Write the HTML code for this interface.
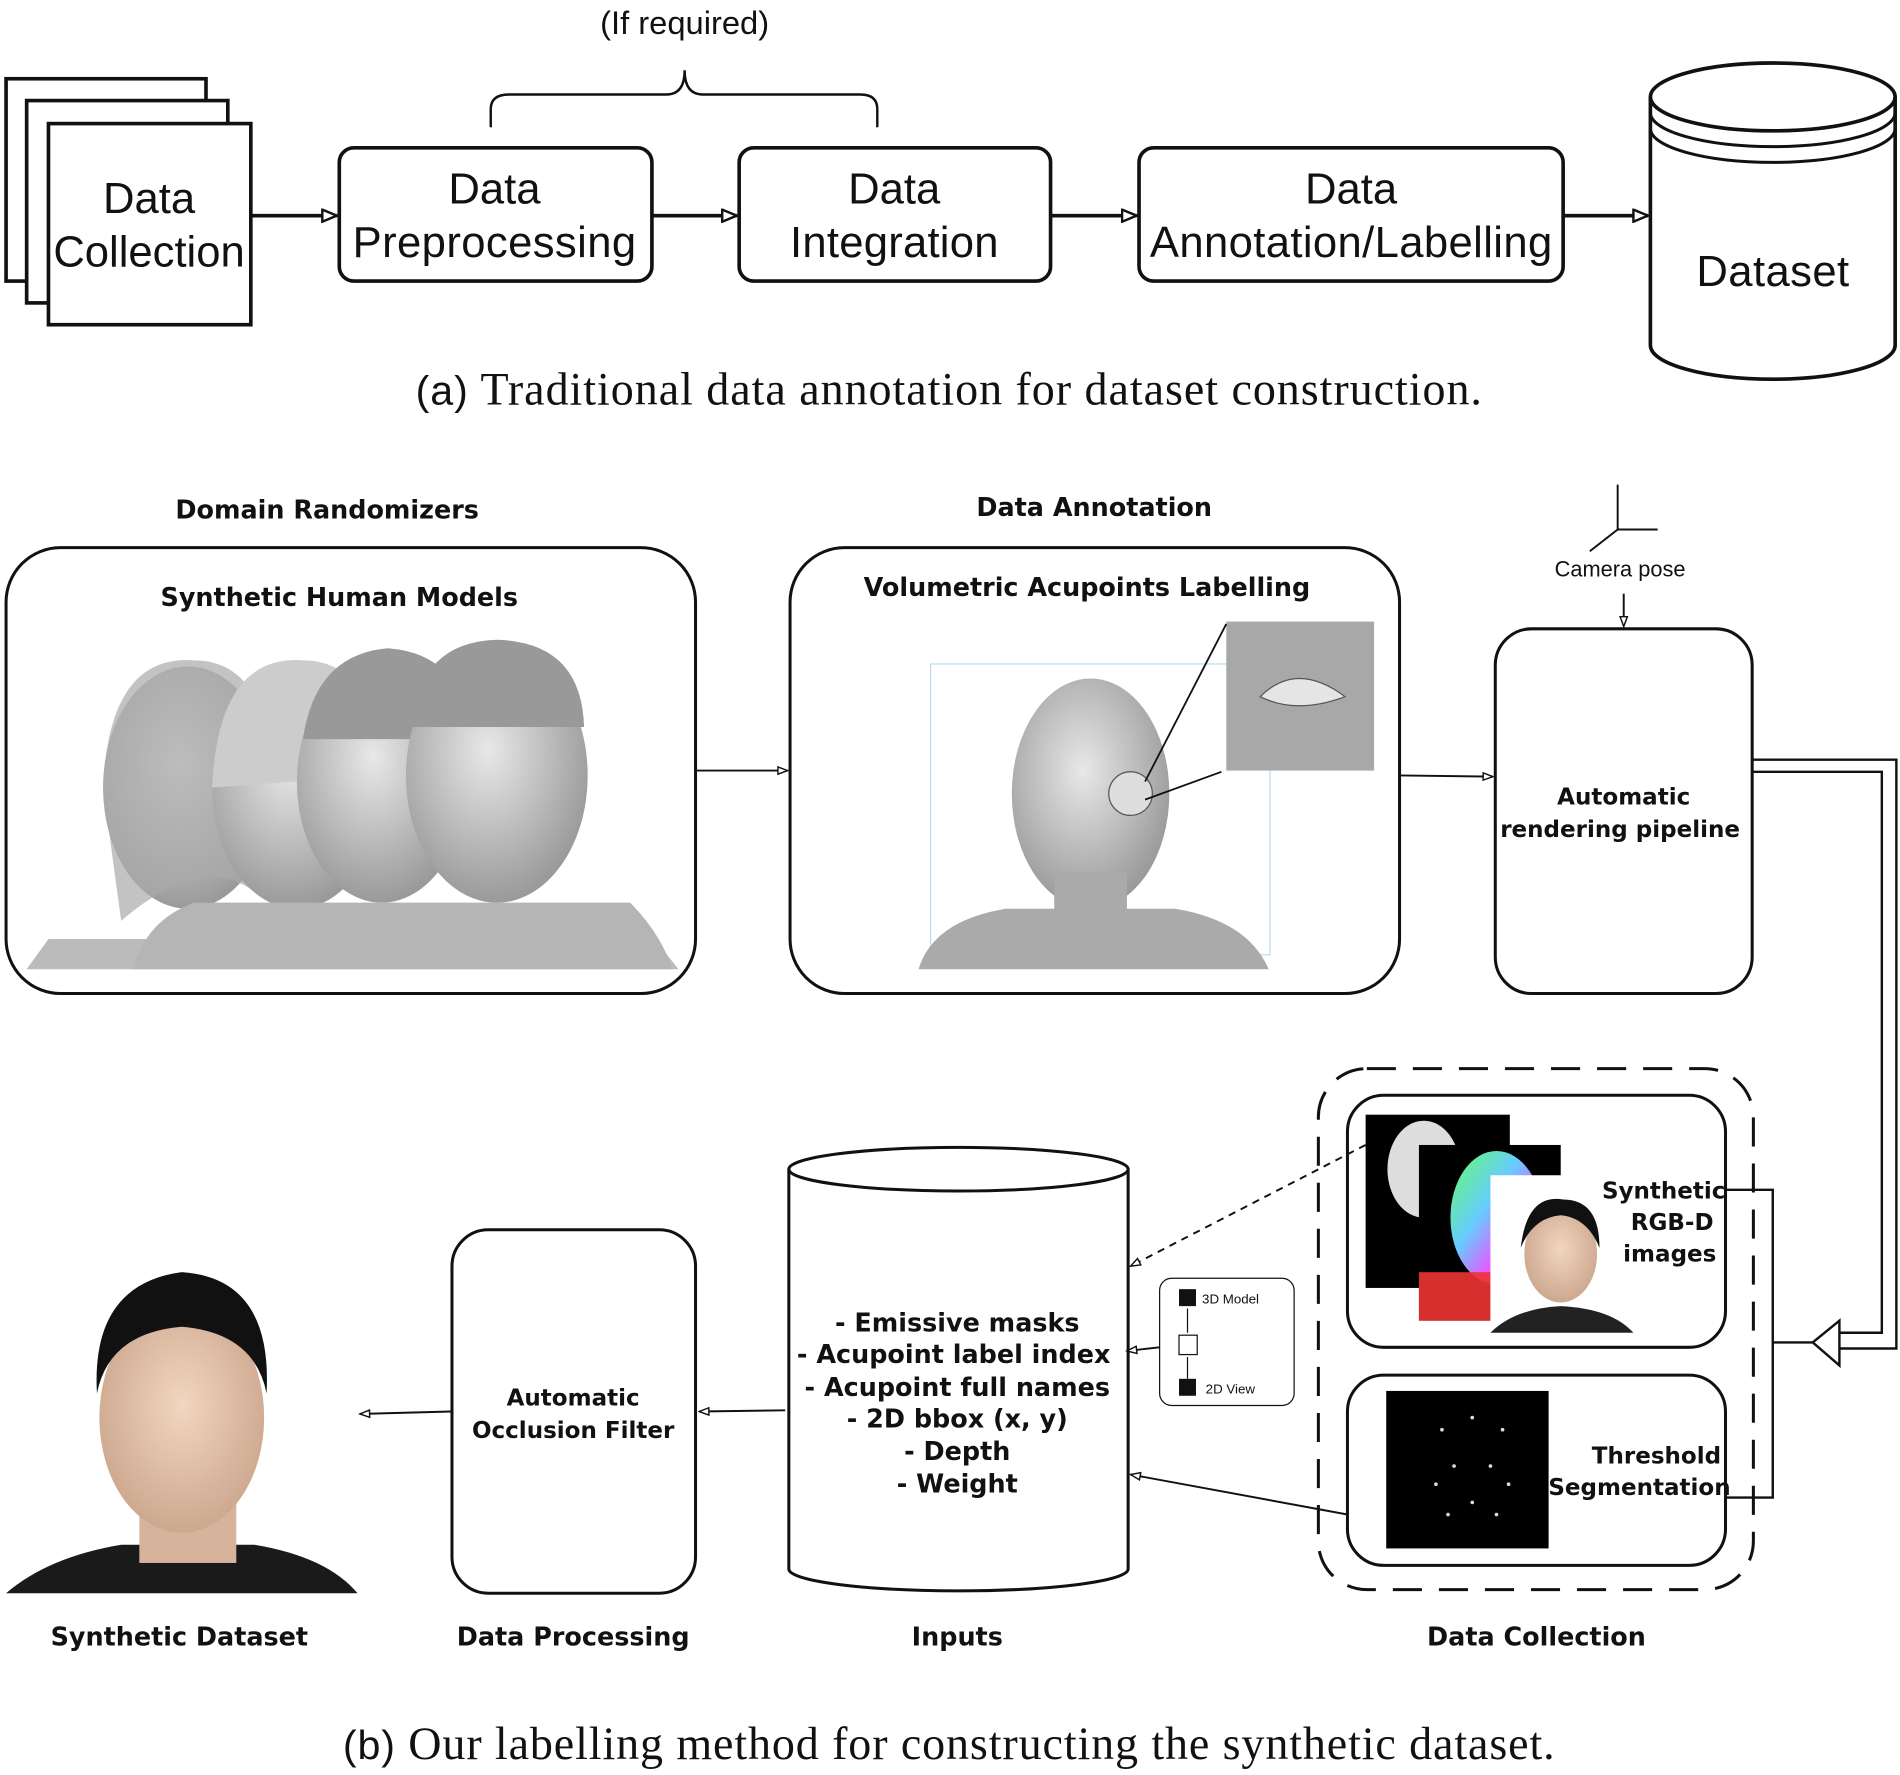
<!DOCTYPE html>
<html><head><meta charset="utf-8"><style>
html,body{margin:0;padding:0;background:#fff}
svg{display:block}
text{font-family:"Liberation Sans",sans-serif;fill:#111}
.b{font-family:"DejaVu Sans",sans-serif;font-weight:bold}
.s{font-family:"Liberation Serif",serif}
</style></head><body>
<svg width="1900" height="1775" viewBox="0 0 1568 1465" preserveAspectRatio="none" xmlns="http://www.w3.org/2000/svg">
<defs>
<marker id="oa" markerWidth="14" markerHeight="12" refX="13" refY="6" orient="auto" markerUnits="userSpaceOnUse"><path d="M1,1 L13,6 L1,11 Z" fill="#fff" stroke="#111" stroke-width="2"/></marker>
<marker id="sa" markerWidth="10" markerHeight="8" refX="9" refY="4" orient="auto" markerUnits="userSpaceOnUse"><path d="M1,1 L9,4 L1,7 Z" fill="#fff" stroke="#111" stroke-width="1.2"/></marker>
<linearGradient id="ng" x1="0" y1="0" x2="1" y2="1"><stop offset="0" stop-color="#6f6"/><stop offset="0.4" stop-color="#6cf"/><stop offset="0.7" stop-color="#f4f"/><stop offset="1" stop-color="#f33"/></linearGradient>
<radialGradient id="hg" cx="0.45" cy="0.4" r="0.6"><stop offset="0" stop-color="#e8e8e8"/><stop offset="1" stop-color="#9a9a9a"/></radialGradient>
<radialGradient id="sk" cx="0.5" cy="0.45" r="0.6"><stop offset="0" stop-color="#f2d6bf"/><stop offset="1" stop-color="#c9a48a"/></radialGradient>
</defs>
<g fill="none" stroke="#111" stroke-width="3">
<rect x="5" y="65" width="165" height="167" fill="#fff"/>
<rect x="22" y="83" width="166" height="167" fill="#fff"/>
<rect x="40" y="102" width="167" height="166" fill="#fff"/>
<rect x="280" y="122" width="258" height="110" rx="12"/>
<rect x="610" y="122" width="257" height="110" rx="12"/>
<rect x="940" y="122" width="350" height="110" rx="12"/>
<path d="M207,178 H278" marker-end="url(#oa)"/>
<path d="M538,178 H608" marker-end="url(#oa)"/>
<path d="M867,178 H938" marker-end="url(#oa)"/>
<path d="M1290,178 H1360" marker-end="url(#oa)"/>
<path d="M1362,80 V285 A101,28 0 0 0 1564,285 V80"/>
<ellipse cx="1463" cy="80" rx="101" ry="28"/>
<path d="M1362,93 A101,28 0 0 0 1564,93 M1362,106 A101,28 0 0 0 1564,106" stroke-width="2.5"/>
<path d="M405,105 V90 Q405,78 420,78 H550 Q565,78 565,58 Q565,78 580,78 H710 Q724,78 724,90 V105" stroke-width="2"/>
</g>
<g font-size="36" text-anchor="middle">
<text x="123" y="176">Data</text><text x="123" y="220" textLength="158">Collection</text>
<text x="408" y="168">Data</text><text x="408" y="212" textLength="234">Preprocessing</text>
<text x="738" y="168">Data</text><text x="738" y="212" textLength="172">Integration</text>
<text x="1115" y="168">Data</text><text x="1115" y="212" textLength="332">Annotation/Labelling</text>
<text x="1463" y="236" textLength="126">Dataset</text>
</g>
<text x="565" y="28" font-size="27" text-anchor="middle" fill="#333">(If required)</text>
<text x="783" y="334" font-size="38" text-anchor="middle" class="s" textLength="880"><tspan font-family="Liberation Sans" font-size="34">(a)</tspan> Traditional data annotation for dataset construction.</text>

<g font-size="21" text-anchor="middle">
<text x="270" y="428" class="b">Domain Randomizers</text>
<text x="903" y="426" class="b">Data Annotation</text>
<text x="280" y="500" class="b">Synthetic Human Models</text>
<text x="897" y="492" class="b">Volumetric Acupoints Labelling</text>
<text x="148" y="1358" class="b">Synthetic Dataset</text>
<text x="473" y="1358" class="b">Data Processing</text>
<text x="790" y="1358" class="b">Inputs</text>
<text x="1268" y="1358" class="b">Data Collection</text>
</g>
<g fill="none" stroke="#111" stroke-width="2.5">
<rect x="5" y="452" width="569" height="368" rx="45"/>
<rect x="652" y="452" width="503" height="368" rx="45"/>
<rect x="1234" y="519" width="212" height="301" rx="30"/>
<rect x="1088" y="882" width="359" height="430" rx="40" stroke-dasharray="24,14"/>
<rect x="1112" y="904" width="312" height="208" rx="30"/>
<rect x="1112" y="1135" width="312" height="157" rx="30"/>
<rect x="373" y="1015" width="201" height="300" rx="30"/>
<path d="M651,965 V1295 A140,18 0 0 0 931,1295 V965"/>
<ellipse cx="791" cy="965" rx="140" ry="18"/>
<path d="M1446,627 H1565 V1113 H1518 M1446,637 H1553 V1100 H1518" stroke-width="2"/>
<path d="M1518,1090 L1496,1108 L1518,1127 Z" stroke-width="2" fill="#fff"/>
<path d="M1424,982 H1463 V1236 H1424 M1463,1108 H1496" stroke-width="2"/>
</g>
<g fill="none" stroke="#111" stroke-width="1.6">
<path d="M574,636 H650" marker-end="url(#sa)"/>
<path d="M1155,640 L1232,641" marker-end="url(#sa)"/>
<path d="M1340,490 V517" marker-end="url(#sa)"/>
<path d="M1127,945 L933,1045" stroke-dasharray="6,5" marker-end="url(#sa)"/>
<path d="M1112,1250 L933,1217" marker-end="url(#sa)"/>
<path d="M957,1112 L930,1115" marker-end="url(#sa)"/>
<path d="M648,1164 L577,1165" marker-end="url(#sa)"/>
<path d="M372,1165 L297,1167" marker-end="url(#sa)"/>
<path d="M1335,400 V437 L1312,455 M1335,437 H1368"/>
<rect x="957" y="1055" width="111" height="105" rx="10" stroke-width="1"/>
<path d="M980,1080 V1100 M980,1120 V1138" stroke-width="1"/>
<rect x="973" y="1102" width="15" height="16" stroke-width="1"/>
</g>
<rect x="973" y="1064" width="14" height="14" fill="#111"/>
<rect x="973" y="1138" width="14" height="14" fill="#111"/>
<text x="992" y="1076" font-size="11">3D Model</text>
<text x="995" y="1150" font-size="11">2D View</text>
<text x="1337" y="476" font-size="18" text-anchor="middle" fill="#222">Camera pose</text>
<!-- heads box1 -->
<path d="M22,800 L40,775 L540,775 L560,800 Z" fill="#bbb"/>
<ellipse cx="155" cy="650" rx="70" ry="100" fill="url(#hg)"/>
<path d="M85,650 Q90,540 160,545 Q220,545 225,640 L215,740 Q170,700 100,760 Z" fill="#aaa" opacity="0.7"/>
<ellipse cx="245" cy="650" rx="70" ry="100" fill="url(#hg)"/>
<path d="M175,650 Q180,540 250,545 Q310,545 315,640 Z" fill="#ccc"/>
<ellipse cx="315" cy="645" rx="70" ry="100" fill="url(#hg)"/>
<path d="M250,610 Q260,540 320,535 Q385,540 385,610 Z" fill="#999"/>
<ellipse cx="410" cy="640" rx="75" ry="105" fill="url(#hg)"/>
<path d="M340,600 Q345,530 410,528 Q480,530 482,600 Z" fill="#999"/>
<path d="M110,800 Q120,760 160,745 H520 Q545,770 555,800 Z" fill="#b5b5b5"/>
<!-- head box2 -->
<rect x="768" y="548" width="280" height="240" fill="none" stroke="#bde" stroke-width="1"/>
<path d="M758,800 Q770,760 830,750 H970 Q1030,760 1047,800 Z" fill="#aaa"/>
<ellipse cx="900" cy="655" rx="65" ry="95" fill="url(#hg)"/>
<rect x="870" y="720" width="60" height="50" fill="#aaa"/>
<circle cx="933" cy="655" r="18" fill="#ddd" stroke="#555"/>
<rect x="1012" y="513" width="122" height="123" fill="#a8a8a8"/>
<path d="M1040,575 Q1070,545 1110,575 Q1070,590 1040,575 Z" fill="#e5e5e5" stroke="#555"/>
<path d="M945,645 L1012,515 M945,660 L1008,637" stroke="#111" stroke-width="1.5" fill="none"/>
<!-- collection images -->
<rect x="1127" y="920" width="119" height="143" fill="#000"/>
<ellipse cx="1175" cy="965" rx="30" ry="40" fill="#ddd"/>
<rect x="1171" y="945" width="117" height="145" fill="#000"/>
<ellipse cx="1235" cy="1005" rx="38" ry="55" fill="url(#ng)"/>
<rect x="1171" y="1050" width="117" height="40" fill="#e33" opacity="0.9"/>
<rect x="1230" y="970" width="95" height="130" fill="#fff"/>
<ellipse cx="1288" cy="1035" rx="30" ry="40" fill="url(#sk)"/>
<path d="M1255,1030 Q1260,985 1290,990 Q1320,990 1320,1030 Q1310,1005 1288,1003 Q1265,1005 1255,1030 Z" fill="#111"/>
<path d="M1230,1100 Q1250,1080 1288,1078 Q1330,1080 1348,1100 Z" fill="#222"/>
<rect x="1144" y="1148" width="134" height="130" fill="#000"/>
<g fill="#ddd"><circle cx="1190" cy="1180" r="1.5"/><circle cx="1215" cy="1170" r="1.5"/><circle cx="1240" cy="1180" r="1.5"/><circle cx="1200" cy="1210" r="1.5"/><circle cx="1230" cy="1210" r="1.5"/><circle cx="1215" cy="1240" r="1.5"/><circle cx="1195" cy="1250" r="1.5"/><circle cx="1235" cy="1250" r="1.5"/><circle cx="1185" cy="1225" r="1.5"/><circle cx="1245" cy="1225" r="1.5"/></g>
<g font-size="19" text-anchor="middle">
<text x="1340" y="664" class="b">Automatic</text><text x="1337" y="691" class="b">rendering pipeline</text>
<text x="473" y="1160" class="b">Automatic</text><text x="473" y="1187" class="b">Occlusion Filter</text>
<text x="1373" y="989" class="b">Synthetic</text><text x="1380" y="1015" class="b">RGB-D</text><text x="1378" y="1041" class="b">images</text>
<text x="1367" y="1208" class="b">Threshold</text><text x="1353" y="1234" class="b">Segmentation</text>
</g>
<g font-size="21" text-anchor="middle">
<text x="790" y="1099" class="b">- Emissive masks</text>
<text x="787" y="1125" class="b">- Acupoint label index</text>
<text x="790" y="1152" class="b">- Acupoint full names</text>
<text x="790" y="1178" class="b">- 2D bbox (x, y)</text>
<text x="790" y="1205" class="b">- Depth</text>
<text x="790" y="1232" class="b">- Weight</text>
</g>
<!-- final face -->
<path d="M5,1315 Q40,1285 100,1275 H210 Q270,1285 295,1315 Z" fill="#1a1a1a"/>
<rect x="115" y="1230" width="80" height="60" fill="#d6b39a"/>
<ellipse cx="150" cy="1170" rx="68" ry="95" fill="url(#sk)"/>
<path d="M80,1150 Q75,1060 150,1050 Q225,1055 220,1150 Q210,1100 150,1095 Q90,1100 80,1150 Z" fill="#111"/>
<text x="783" y="1452" font-size="38" text-anchor="middle" class="s" textLength="1000"><tspan font-family="Liberation Sans" font-size="34">(b)</tspan> Our labelling method for constructing the synthetic dataset.</text>
</svg>
</body></html>
